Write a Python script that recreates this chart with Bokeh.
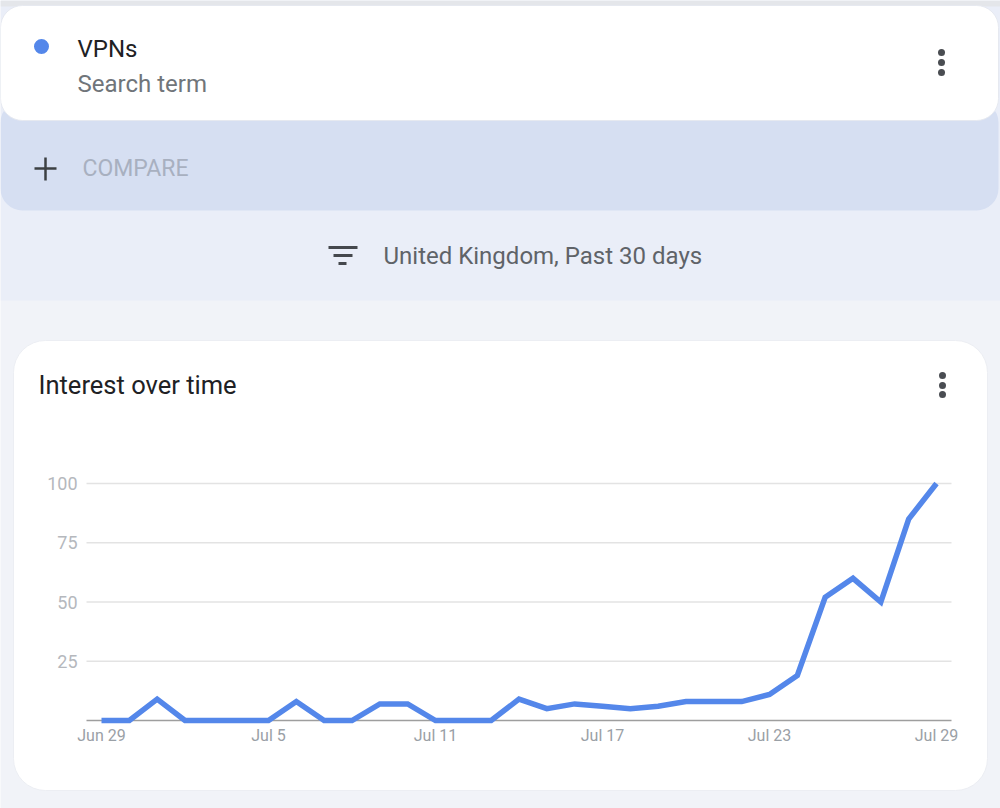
from bokeh.plotting import figure
from bokeh.models import Range1d, ColumnDataSource
from bokeh.core.properties import value
from bokeh.embed import file_html
from bokeh.resources import INLINE

# ---------------- data ----------------
term = "VPNs"
term_kind = "Search term"
compare_label = "COMPARE"
filter_label = "United Kingdom, Past 30 days"
chart_title = "Interest over time"

days = list(range(31))  # Jun 29 .. Jul 29
interest = [0, 0, 9, 0, 0, 0, 0, 8, 0, 0, 7, 7, 0, 0, 0, 9, 5, 7, 6, 5, 6,
            8, 8, 8, 11, 19, 52, 60, 50, 85, 100]

x_tick_days = [0, 6, 12, 18, 24, 30]
x_tick_labels = ["Jun 29", "Jul 5", "Jul 11", "Jul 17", "Jul 23", "Jul 29"]
y_tick_values = [25, 50, 75, 100]
y_tick_labels = ["25", "50", "75", "100"]

# ---------------- layout constants (pixels) ----------------
W, H = 1000, 808
PX_DAY0, PX_DAY30 = 101, 936      # where first / last day sit
PY_V0, PY_V100 = 720, 483         # where 0 / 100 sit
GRID_L, GRID_R = 86, 951

px_per_day = (PX_DAY30 - PX_DAY0) / 30.0
px_per_val = (PY_V0 - PY_V100) / 100.0

def px_to_day(px):
    return (px - PX_DAY0) / px_per_day

FONT = value("Roboto")
LINE_COLOR = "#5487ea"

p = figure(width=W, height=H, x_range=Range1d(0, W), y_range=Range1d(H, 0),
           min_border=0, toolbar_location=None, output_backend="svg",
           x_axis_type=None, y_axis_type=None,
           background_fill_color="#f1f3f8", border_fill_color="#f1f3f8",
           outline_line_color=None)
p.grid.visible = False

p.extra_x_ranges = {"day": Range1d(px_to_day(0), px_to_day(W))}
p.extra_y_ranges = {"val": Range1d((PY_V0 - H) / px_per_val, PY_V0 / px_per_val)}

# ---------------- page decoration ----------------
p.quad(left=[0], right=[W], top=[0], bottom=[300], fill_color="#eaeef8", line_color=None)
p.quad(left=[0], right=[W], top=[0], bottom=[6], fill_color="#e4e6ea", line_color=None)
p.quad(left=[0], right=[998], top=[100], bottom=[210], fill_color="#d6dff2",
       line_color=None, border_radius=22)
p.quad(left=[0], right=[998], top=[5], bottom=[120], fill_color="#ffffff",
       line_color="#e6e9f0", line_width=1, border_radius=22)
p.quad(left=[13], right=[987], top=[340], bottom=[790], fill_color="#ffffff",
       line_color="#eceef3", line_width=1, border_radius=32)

# term row
p.scatter(x=[41], y=[46], size=15, marker="circle", fill_color=LINE_COLOR, line_color=None)
p.text(x=[77], y=[48], text=[term], text_font=FONT, text_font_size="24px",
       text_color="#202124", text_baseline="middle", text_align="left")
p.text(x=[77], y=[83], text=[term_kind], text_font=FONT, text_font_size="24px",
       text_color="#70757a", text_baseline="middle", text_align="left")
p.scatter(x=[941, 941, 941], y=[52, 62, 72], size=7, marker="circle",
          fill_color="#4a4d52", line_color=None)
p.scatter(x=[942, 942, 942], y=[375, 385, 394], size=7, marker="circle",
          fill_color="#4a4d52", line_color=None)

# compare row
p.segment(x0=[34, 45], y0=[168, 157], x1=[56, 45], y1=[168, 180],
          line_color="#3c4043", line_width=2.5)
p.text(x=[82], y=[168], text=[compare_label], text_font=FONT, text_font_size="23px",
       text_color="#a8b0c0", text_baseline="middle", text_align="left")

# filter row
p.segment(x0=[328, 333, 338], y0=[247, 255, 263], x1=[357, 352, 346], y1=[247, 255, 263],
          line_color="#45484d", line_width=3)
p.text(x=[383], y=[255], text=[filter_label], text_font=FONT, text_font_size="24px",
       text_color="#5f6368", text_baseline="middle", text_align="left")

# chart title
p.text(x=[38], y=[384], text=[chart_title], text_font=FONT, text_font_size="25.5px",
       text_color="#202124", text_baseline="middle", text_align="left")

# ---------------- chart ----------------
g0, g1 = px_to_day(GRID_L), px_to_day(GRID_R)
p.segment(x0=[g0] * len(y_tick_values), x1=[g1] * len(y_tick_values),
          y0=y_tick_values, y1=y_tick_values,
          x_range_name="day", y_range_name="val", line_color="#e3e3e3", line_width=1.5)
p.segment(x0=[g0], x1=[g1], y0=[0], y1=[0], x_range_name="day", y_range_name="val",
          line_color="#9e9e9e", line_width=1.5)

src = ColumnDataSource(dict(day=days, v=interest))
p.line("day", "v", source=src, x_range_name="day", y_range_name="val",
       line_color=LINE_COLOR, line_width=5.5, line_join="miter")

p.text(x=[g0] * len(y_tick_values), y=y_tick_values, text=y_tick_labels,
       x_range_name="day", y_range_name="val", x_offset=-9,
       text_font=FONT, text_font_size="18px", text_color="#b5b8bd",
       text_baseline="middle", text_align="right")
p.text(x=x_tick_days, y=[0] * len(x_tick_days), text=x_tick_labels,
       x_range_name="day", y_range_name="val", y_offset=15,
       text_font=FONT, text_font_size="16px", text_color="#9aa0a6",
       text_baseline="middle", text_align="center")

open("out.html", "w").write(file_html(p, INLINE))
